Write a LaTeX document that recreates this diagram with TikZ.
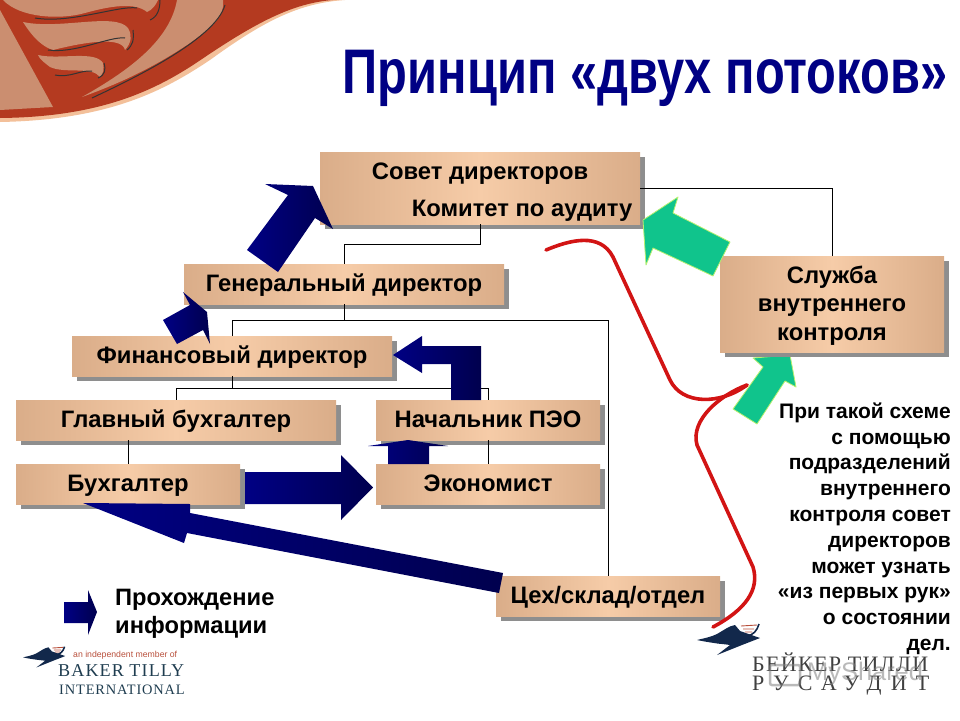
\documentclass[tikz,border=0pt]{standalone}
\usepackage{fontspec}
\usetikzlibrary{shadows}
\setmainfont{Liberation Sans}
\newfontfamily\titlefont[FakeStretch=0.775]{Liberation Sans}
\newfontfamily\logofont[LetterSpace=6]{Liberation Serif}
\newfontfamily\logowide[LetterSpace=42]{Liberation Serif}
\definecolor{boxedge}{HTML}{DAAD89}
\definecolor{boxmid}{HTML}{F6CCA8}
\definecolor{boxshadow}{HTML}{8E8E8E}
\definecolor{flowblue}{HTML}{000084}
\definecolor{flowdark}{HTML}{00004E}
\definecolor{greenflow}{HTML}{10C48C}
\definecolor{greenrim}{HTML}{B8F070}
\definecolor{cornerred}{HTML}{B43A20}
\definecolor{cornertan}{HTML}{CB8E70}
\definecolor{cornerrim}{HTML}{F3C09A}
\definecolor{eaglenavy}{HTML}{12284B}
\definecolor{logored}{HTML}{B8503C}
\definecolor{logoteal}{HTML}{1F3D50}
\definecolor{redcurve}{HTML}{D21414}
\tikzset{
  office/.style={shading=axis, left color=boxedge, right color=boxedge, middle color=boxmid,
    general shadow={fill=boxshadow, shadow xshift=5pt, shadow yshift=-5pt},
    inner sep=0pt, font=\bfseries\fontsize{23.8}{28.5}\selectfont, align=center, text depth=2pt},
  link/.style={line width=0.9pt},
  flow/.style={left color=flowblue, right color=flowdark},
  greenarrow/.style={fill=greenflow, draw=greenrim, line width=0.8pt, line join=round},
  redline/.style={draw=redcurve, line width=3.6pt, line cap=round},
  eagle/.pic={
    \fill[eaglenavy] (0,17) .. controls (8,15) and (14,14) .. (20,11) .. controls (27,7) and (32,3) .. (38,2)
      -- (43,8) -- (63,15) -- (45,22) -- (20,32) -- (33,22) .. controls (27,21) and (22,21) .. (17,20)
      .. controls (10,19) and (5,18) .. (0,17) -- cycle;
    \draw[logored, line width=0.9pt] (44,3) -- (60,2) (46,6) -- (57,6) (48,9) -- (55,9);
    \draw[eaglenavy, line width=1.6pt] (62,1) .. controls (60,8) and (56,12) .. (50,13);
  }
}
\begin{document}
\begin{tikzpicture}[x=1pt,y=-1pt]
  \useasboundingbox (0,0) rectangle (960,720);

  \fill[cornerrim] (0,0) -- (345,0) .. controls (300,3) and (265,20) .. (210,60)
    .. controls (165,90) and (110,120) .. (0,122) -- cycle;
  \fill[cornerred] (0,0) -- (333,0) .. controls (295,3) and (260,20) .. (205,57)
    .. controls (160,88) and (105,117) .. (0,118) -- cycle;
  \fill[cornertan] (0,10) -- (53,107) -- (0,110) -- cycle;
  \fill[cornertan] (177,0) -- (223,0) .. controls (225,15) and (215,25) .. (190,43)
    .. controls (150,70) and (115,85) .. (82,97) .. controls (130,70) and (170,40) .. (177,0) -- cycle;
  \fill[cornertan] (3,0) .. controls (20,18) and (60,20) .. (85,13) .. controls (110,6) and (135,2) .. (147,12)
    .. controls (152,10) and (156,5) .. (158,0) -- cycle;
  \fill[cornertan] (23,22) .. controls (60,30) and (115,12) .. (128,28) .. controls (132,35) and (132,42) .. (125,50)
    .. controls (122,36) and (85,42) .. (53,50) .. controls (43,47) and (33,38) .. (23,22) -- cycle;
  \fill[cornertan] (38,55) .. controls (60,60) and (95,50) .. (103,63) .. controls (104,70) and (104,72) .. (100,77)
    .. controls (92,66) and (65,74) .. (50,67) .. controls (45,63) and (40,60) .. (38,55) -- cycle;
  \draw[black!80, line width=1pt] (92,98) .. controls (130,80) and (215,40) .. (225,5);
  \draw[black!80, line width=1pt] (35,18) .. controls (70,24) and (120,5) .. (137,8);
  \draw[black!80, line width=1pt] (48,50) .. controls (75,54) and (110,36) .. (125,38);
  \draw[black!80, line width=1pt] (55,75) .. controls (70,78) and (80,70) .. (92,71);
  \draw[black!80, line width=1pt] (150,20) .. controls (157,17) and (160,10) .. (160,0);
  \draw[black!80, line width=1pt] (127,50) .. controls (133,45) and (134,40) .. (133,30);
  \draw[black!80, line width=1pt] (98,78) .. controls (105,75) and (106,70) .. (104,63);

  \node[text=flowblue, inner sep=0pt, font=\titlefont\bfseries\fontsize{63}{70}\selectfont] (title) at (645,78) {Принцип «двух потоков»};

  \path[greenarrow] (733,409) -- (757,424) -- (785,381) -- (796,387) -- (790,355) -- (753,358) -- (763,367) -- cycle;

  \node[office, minimum width=320pt, minimum height=72pt] (sovet) at (480,188) {};
  \node[font=\bfseries\fontsize{23.8}{26}\selectfont, inner sep=0pt] (sovettext) at (480,174) {Совет директоров};
  \node[font=\bfseries\fontsize{23.8}{26}\selectfont, inner sep=0pt] (audit) at (522,211) {Комитет по аудиту};
  \node[office, minimum width=224pt, minimum height=96pt] (sluzhba) at (832,304) {Служба\\внутреннего\\контроля};
  \node[office, minimum width=320pt, minimum height=40pt] (gen) at (344,284) {Генеральный директор};
  \node[office, minimum width=320pt, minimum height=40pt] (fin) at (232,356) {Финансовый директор};
  \node[office, minimum width=320pt, minimum height=40pt] (glav) at (176,420) {Главный бухгалтер};
  \node[office, minimum width=224pt, minimum height=40pt] (nach) at (488,420) {Начальник ПЭО};
  \node[office, minimum width=224pt, minimum height=40pt] (buh) at (128,484) {Бухгалтер};
  \node[office, minimum width=224pt, minimum height=40pt] (eco) at (488,484) {Экономист};
  \node[office, minimum width=224pt, minimum height=40pt] (ceh) at (608,596) {Цех/склад/отдел};

  \draw[link] (sovet.east) -| (sluzhba.north);
  \draw[link] (sovet.south) -- ++(0,20) -| (gen.north);
  \draw[link] (gen.south) -- ++(0,16) coordinate (genfork) -| (fin.north);
  \draw[link] (genfork) -| (ceh.north);
  \draw[link] (fin.south) -- ++(0,12) coordinate (finfork) -| (glav.north);
  \draw[link] (finfork) -| (nach.north);
  \draw[link] (nach.south) -- (eco.north);
  \draw[link] (buh.north) -- (buh.north |- glav.south);

  \path[flow] (247,250) -- (288,195) -- (265,184) -- (313,186) -- (333,229) -- (315,218) -- (278,272) -- cycle;
  \path[flow] (163,320) -- (190,305) -- (183,292) -- (207,312) -- (210,344) -- (203,330) -- (177,344) -- cycle;
  \path[flow] (481,400) -- (481,346) -- (422,346) -- (422,336) -- (393,355) -- (422,373) -- (422,364) -- (451,364) -- (451,400) -- cycle;
  \path[flow] (388,464) -- (429,464) -- (429,446) -- (448,446) -- (408,440) -- (368,446) -- (388,446) -- cycle;
  \path[flow] (245,472) -- (341,472) -- (341,455) -- (373,487.5) -- (341,520) -- (341,504) -- (245,504) -- cycle;
  \path[flow] (499,593) -- (503,573) -- (190,513) -- (190,504) -- (83,503) -- (184,543) -- (187,533) -- cycle;
  \path[flow] (64,602) -- (88,602) -- (88,590) -- (97,612) -- (88,635) -- (88,623) -- (64,623) -- cycle;

  \path[greenarrow] (643,220) -- (678,197) -- (673,213) -- (730,242) -- (713,276) -- (653,248) -- (646,265) -- cycle;

  \draw[redline] (546,250) .. controls (570,240) and (600,232) .. (613,257) -- (670,380)
    .. controls (682,405) and (720,405) .. (747,385);
  \draw[redline] (747,385) .. controls (720,395) and (690,420) .. (697,445) -- (753,567)
    .. controls (760,590) and (745,610) .. (713,627);

  \node[anchor=north east, align=right, inner sep=0pt, font=\bfseries\fontsize{21}{25.8}\selectfont] (note) at (951,402.5)
    {При такой схеме\\с помощью\\подразделений\\внутреннего\\контроля совет\\директоров\\может узнать\\«из первых рук»\\о состоянии\\дел.};
  \node[anchor=north west, align=left, inner sep=0pt, font=\bfseries\fontsize{23.7}{28.5}\selectfont] (legend) at (115,588.5)
    {Прохождение\\информации};

  \pic[scale=0.67] at (23,646) {eagle};
  \node[anchor=west, inner sep=0pt, text=logored, font=\fontsize{8.7}{9}\selectfont] (member) at (73,655) {an independent member of};
  \node[anchor=west, inner sep=0pt, text=logoteal, font=\logofont\fontsize{18.1}{20}\selectfont] (baker) at (58,671) {BAKER TILLY};
  \node[anchor=west, inner sep=0pt, text=logoteal, font=\logofont\fontsize{14.4}{15}\selectfont] (intl) at (59,690) {INTERNATIONAL};

  \pic at (697,623) {eagle};
  \node[anchor=west, inner sep=0pt, text=black!75, font=\logofont\fontsize{22}{24}\selectfont] (beiker) at (752,662) {БЕЙКЕР ТИЛЛИ};
  \node[anchor=west, inner sep=0pt, text=black!75, font=\logowide\fontsize{22}{24}\selectfont] (rusaudit) at (752,686) {РУСАУДИТ};
  \node[anchor=west, inner sep=0pt, text=gray, opacity=0.55, font=\fontsize{25.4}{28}\selectfont] (shared) at (807,674) {MyShared};
  \draw[gray, opacity=0.55, line width=2.5pt, rounded corners=2pt] (770,665) rectangle (800,685);
\end{tikzpicture}
\end{document}
